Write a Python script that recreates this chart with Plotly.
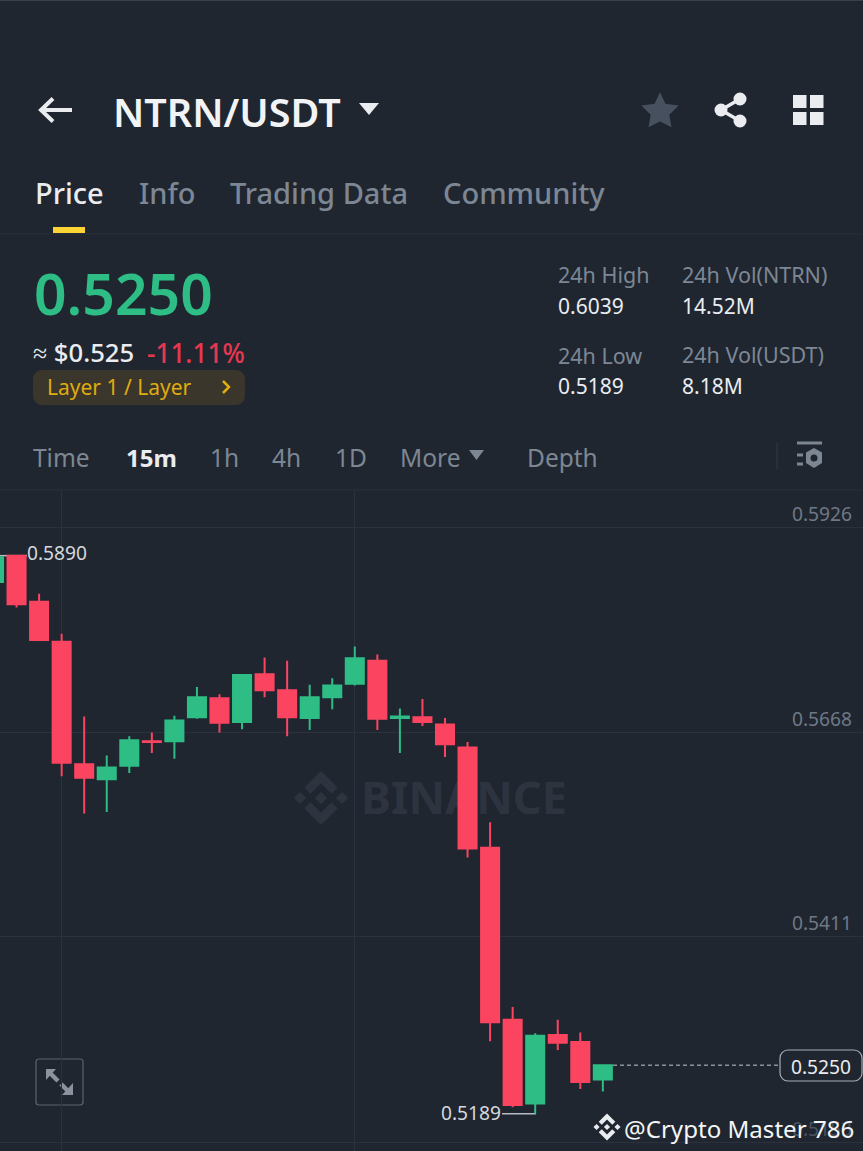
import plotly.graph_objects as go

W, H = 863, 1151
BG = "#1f2630"
GRID = "#2b323d"
GREEN = "#2ebd85"
RED = "#fb4560"
GREY = "#7d8794"
WHITE = "#eaecef"
WATERMARK = "#2d343f"
FONT = "Noto Sans"
STEP = 22.55  # pixels between candles

# candles
candle_x = list(range(28))
opens = [0.5857, 0.5890, 0.5832, 0.5782, 0.5628, 0.5609, 0.5626, 0.5657, 0.5657, 0.5687,
         0.5711, 0.5681, 0.5741, 0.5721, 0.5686, 0.5712, 0.5729, 0.5758, 0.5686, 0.5687,
         0.5678, 0.5649, 0.5523, 0.5307, 0.5202, 0.5288, 0.5279, 0.5232]
highs = [0.5888, 0.5890, 0.5842, 0.5792, 0.5688, 0.5639, 0.5663, 0.5668, 0.5689, 0.5725,
         0.5716, 0.5741, 0.5762, 0.5758, 0.5728, 0.5736, 0.5776, 0.5766, 0.5698, 0.5710,
         0.5686, 0.5656, 0.5555, 0.5323, 0.5290, 0.5307, 0.5291, 0.5250]
lows = [0.5857, 0.5825, 0.5784, 0.5613, 0.5566, 0.5568, 0.5617, 0.5642, 0.5635, 0.5685,
        0.5668, 0.5672, 0.5712, 0.5663, 0.5671, 0.5697, 0.5727, 0.5671, 0.5642, 0.5676,
        0.5637, 0.5511, 0.5280, 0.5197, 0.5189, 0.5269, 0.5220, 0.5217]
closes = [0.5888, 0.5829, 0.5784, 0.5630, 0.5611, 0.5624, 0.5658, 0.5656, 0.5683, 0.5712,
          0.5680, 0.5740, 0.5721, 0.5687, 0.5712, 0.5727, 0.5761, 0.5685, 0.5688, 0.5681,
          0.5653, 0.5522, 0.5304, 0.5200, 0.5287, 0.5278, 0.5229, 0.5250]

y_ticks = [0.5926, 0.5668, 0.5411, 0.5153]
y_labels = ["0.5926", "0.5668", "0.5411", "0.5153"]
x_grid = [3, 16]
high_mark = 0.5890
low_mark = 0.5189
last_price = 0.5250

# header text
tabs = [("Price", 35, WHITE), ("Info", 139, GREY), ("Trading Data", 230, GREY), ("Community", 443, GREY)]
stats = [("24h High", "0.6039", 558, 275, 306), ("24h Vol(NTRN)", "14.52M", 682, 274, 306),
         ("24h Low", "0.5189", 558, 355, 386), ("24h Vol(USDT)", "8.18M", 682, 354, 386)]
intervals = [("Time", 33), ("1h", 210), ("4h", 272), ("1D", 335), ("More", 400), ("Depth", 527)]

# Binance logo outline in its own 126.6 unit box
LOGO = [
    [(38.73, 53.2), (63.32, 28.62), (87.92, 53.22), (102.22, 38.91), (63.32, 0), (24.42, 38.9)],
    [(0, 63.31), (14.3, 49), (28.61, 63.31), (14.3, 77.61)],
    [(38.73, 73.41), (63.32, 98), (87.92, 73.4), (102.23, 87.69), (63.33, 126.6), (24.42, 87.72)],
    [(98.28, 63.31), (112.58, 49), (126.89, 63.3), (112.58, 77.62)],
    [(77.83, 63.3), (63.32, 48.78), (48.81, 63.28), (63.32, 77.78)],
]


def fx(x):
    return x / W


def fy(y):
    return 1 - y / H


def path_of(points, close=True):
    parts = [f"{fx(x):.5f},{fy(y):.5f}" for x, y in points]
    return "M" + " L".join(parts) + (" Z" if close else "")


def round_rect(x0, y0, x1, y1, r):
    k = r * 0.45
    return (f"M{fx(x0 + r):.5f},{fy(y0):.5f} L{fx(x1 - r):.5f},{fy(y0):.5f} "
            f"C{fx(x1 - k):.5f},{fy(y0):.5f} {fx(x1):.5f},{fy(y0 + k):.5f} {fx(x1):.5f},{fy(y0 + r):.5f} "
            f"L{fx(x1):.5f},{fy(y1 - r):.5f} "
            f"C{fx(x1):.5f},{fy(y1 - k):.5f} {fx(x1 - k):.5f},{fy(y1):.5f} {fx(x1 - r):.5f},{fy(y1):.5f} "
            f"L{fx(x0 + r):.5f},{fy(y1):.5f} "
            f"C{fx(x0 + k):.5f},{fy(y1):.5f} {fx(x0):.5f},{fy(y1 - k):.5f} {fx(x0):.5f},{fy(y1 - r):.5f} "
            f"L{fx(x0):.5f},{fy(y0 + r):.5f} "
            f"C{fx(x0):.5f},{fy(y0 + k):.5f} {fx(x0 + k):.5f},{fy(y0):.5f} {fx(x0 + r):.5f},{fy(y0):.5f} Z")


shapes = []
annotations = []


def add_path(path, fill=None, line=None, width=0):
    shapes.append(dict(type="path", path=path, xref="paper", yref="paper", layer="below",
                       fillcolor=fill if fill else "rgba(0,0,0,0)",
                       line=dict(color=line if line else "rgba(0,0,0,0)", width=width)))


def add_line(points, color, width):
    add_path(path_of(points, close=False), line=color, width=width)


def add_logo(cx, cy, size, color):
    s = size / 126.6
    for poly in LOGO:
        add_path(path_of([(cx + (x - 63.3) * s, cy + (y - 63.3) * s) for x, y in poly]), fill=color)


def label(x, y, text, size, color, anchor="left", weight=400):
    annotations.append(dict(x=fx(x), y=fy(y), xref="paper", yref="paper", text=text, showarrow=False,
                            xanchor=anchor, yanchor="middle", borderpad=0, borderwidth=0,
                            font=dict(family=FONT, size=size, color=color, weight=weight)))


fig = go.Figure()
fig.add_trace(go.Candlestick(
    x=candle_x, open=opens, high=highs, low=lows, close=closes,
    whiskerwidth=0, showlegend=False,
    increasing=dict(line=dict(color=GREEN, width=2), fillcolor=GREEN),
    decreasing=dict(line=dict(color=RED, width=2), fillcolor=RED),
))

# top bar
add_line([(0, 0.5), (W, 0.5)], "#3a424e", 1)
add_line([(72, 110), (41, 110)], WHITE, 4)
add_line([(53, 98.5), (41, 110), (53, 121.5)], WHITE, 4)
label(113, 112, "NTRN/USDT", 39.5, "#f2f3f5", weight=600)
add_path(path_of([(359, 103), (379, 103), (369, 115)]), fill=WHITE)
add_path(path_of([(660, 94), (665, 104.5), (677, 106), (668.5, 114.5), (670.5, 126),
                  (660, 120.5), (649.5, 126), (651.5, 114.5), (643, 106), (655, 104.5)]),
         fill="#47505f", line="#47505f", width=1.5)
add_line([(740, 99), (721, 110), (740, 121)], WHITE, 3.5)
for cx, cy in [(740, 99), (721, 110), (740, 121)]:
    shapes.append(dict(type="circle", xref="paper", yref="paper", layer="below",
                       x0=fx(cx - 6.5), x1=fx(cx + 6.5), y0=fy(cy + 6.5), y1=fy(cy - 6.5),
                       fillcolor=WHITE, line=dict(width=0)))
for x0, y0 in [(793, 95), (810, 95), (793, 112), (810, 112)]:
    add_path(path_of([(x0, y0), (x0 + 13.5, y0), (x0 + 13.5, y0 + 13), (x0, y0 + 13)]), fill=WHITE)

# tabs
for text, x, color in tabs:
    label(x, 193, text, 29, color, weight=500)
add_path(path_of([(53, 227), (85, 227), (85, 233), (53, 233)]), fill="#fcd535")
add_line([(0, 234), (W, 234)], "#2a313b", 1)

# price block
label(34, 293, "0.5250", 57, GREEN, weight=600)
label(33, 353, "≈ $0.525", 25.7, WHITE, weight=500)
label(147, 353, "-11.11%", 26.2, "#e8374f", weight=500)
add_path(round_rect(33, 370, 245, 405, 9), fill="#3a362b")
label(47, 387, "Layer 1 / Layer", 21, "#e0ac10")
add_line([(223, 381), (229, 387), (223, 393)], "#e0ac10", 2.5)
for head, value, x, y0, y1 in stats:
    label(x, y0, head, 21.5, GREY)
    label(x, y1, value, 21, WHITE)

# interval row
for text, x in intervals:
    label(x, 457, text, 24.5, GREY)
label(126, 458, "15m", 24, WHITE, weight=700)
add_path(path_of([(469, 450), (484, 450), (476.5, 460)]), fill=GREY)
add_line([(777, 443), (777, 469)], "#343b46", 1)
add_line([(797, 443), (822, 443)], GREY, 3)
add_line([(797, 455), (803, 455)], GREY, 3)
add_line([(797, 464), (803, 464)], GREY, 3)
add_path(path_of([(814, 448), (822, 452.5), (822, 463), (814, 468), (806, 463), (806, 452.5)]), fill=GREY)
shapes.append(dict(type="circle", xref="paper", yref="paper", layer="below",
                   x0=fx(810.5), x1=fx(817.5), y0=fy(461.5), y1=fy(454.5),
                   fillcolor=BG, line=dict(width=0)))
add_line([(0, 490), (W, 490)], "#2a313b", 1)

# chart watermark, below the candles
add_logo(321, 798, 54, WATERMARK)
shapes.append(dict(type="rect", xref="paper", yref="paper", layer="below",
                   x0=fx(358), x1=fx(570), y0=fy(826), y1=fy(772),
                   fillcolor="rgba(0,0,0,0)", line=dict(width=0),
                   label=dict(text="BINANCE", textposition="middle center",
                              font=dict(family=FONT, size=45, color=WATERMARK, weight=700))))

# axis labels
for value, text in zip(y_ticks[:3], y_labels[:3]):
    y = 527 + (0.5926 - value) * 7961
    label(852, y - 14, text, 19.2, "#6f7885", anchor="right")
label(852, 1128, y_labels[3], 19.2, "#4a525e", anchor="right")

# high, low and last price markers
shapes.append(dict(type="line", xref="paper", yref="y", x0=0, x1=fx(27), y0=high_mark, y1=high_mark,
                   layer="below", line=dict(color="#b7bcc4", width=1.5)))
label(27, 553, f"{high_mark:.4f}", 19.2, "#d5d8dc")
shapes.append(dict(type="line", xref="paper", yref="y", x0=fx(502), x1=fx(536), y0=low_mark, y1=low_mark,
                   layer="below", line=dict(color="#b7bcc4", width=1.5)))
label(501, 1112, f"{low_mark:.4f}", 19.2, "#d5d8dc", anchor="right")
shapes.append(dict(type="line", xref="paper", yref="y", x0=fx(613), x1=fx(778), y0=last_price, y1=last_price,
                   layer="below", line=dict(color="#c4c8cd", width=1, dash="4px,3px")))
add_path(round_rect(780, 1050, 862, 1081, 8), fill=BG, line="#a6abb2", width=1.2)
label(851, 1066, f"{last_price:.4f}", 19.2, WHITE, anchor="right")

# fullscreen button
add_path(round_rect(36, 1059, 83, 1105, 3), fill=BG, line="#5b636f", width=1.2)
add_line([(49, 1072), (58, 1081)], "#8b929d", 4.5)
add_path(path_of([(46, 1069), (56, 1069), (46, 1080)]), fill="#8b929d")
add_line([(61, 1084), (70, 1093)], "#8b929d", 4.5)
add_path(path_of([(73, 1095), (62, 1095), (73, 1083)]), fill="#8b929d")

# author watermark
add_logo(607, 1127, 27, WHITE)
label(624, 1128, "@Crypto Master 786", 24.1, "#f4f5f6")

fig.update_layout(
    width=W, height=H,
    margin=dict(l=0, r=0, t=0, b=0),
    paper_bgcolor=BG, plot_bgcolor="rgba(0,0,0,0)",
    boxgap=0.2, boxgroupgap=0,
    showlegend=False,
    shapes=shapes,
    annotations=annotations,
    xaxis=dict(range=[6 / STEP, (W + 6) / STEP], domain=[0, 1], rangeslider=dict(visible=False),
               tickvals=x_grid, showticklabels=False, showgrid=True, gridcolor=GRID, gridwidth=1,
               zeroline=False, showline=False, ticks=""),
    yaxis=dict(range=[0.5926 - (H - 527) / 7961, 0.5926 + (527 - 490) / 7961], domain=[0, (H - 490) / H],
               tickvals=y_ticks, showticklabels=False, showgrid=True, gridcolor=GRID, gridwidth=1,
               zeroline=False, showline=False, ticks=""),
)

# the page must start at the window corner, without the default body margin
fig.write_html("out.html", config=dict(displayModeBar=False),
               post_script="document.body.style.margin='0';document.body.style.overflow='hidden';")
